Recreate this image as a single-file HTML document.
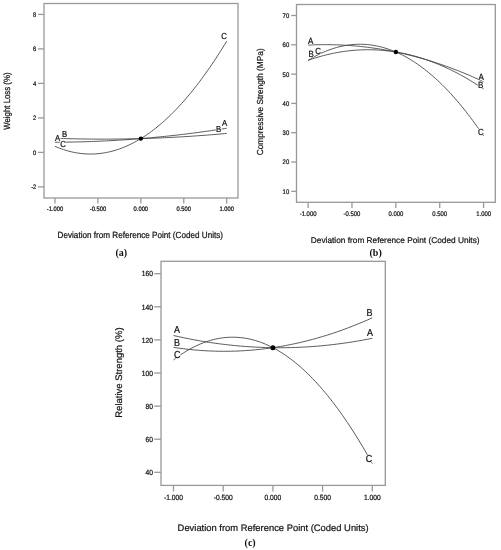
<!DOCTYPE html>
<html><head><meta charset="utf-8"><title>Perturbation plots</title>
<style>
html,body{margin:0;padding:0;background:#fff;}
svg{display:block;}
text{font-family:"Liberation Sans", Arial, Helvetica, sans-serif; fill:#151515; stroke:#151515; stroke-width:0.22px;}
.tag{font-family:"Liberation Serif", "Times New Roman", serif; font-weight:bold; stroke:none; fill:#111;}
</style></head><body>
<svg width="501" height="550" viewBox="0 0 501 550">
<rect width="501" height="550" fill="#fff"/>
<g id="panel-a">
<rect x="44" y="3.5" width="194.00" height="194.50" fill="none" stroke="#999999" stroke-width="1.3"/>
<line x1="55.00" y1="198" x2="55.00" y2="203.50" stroke="#999999" stroke-width="1.3"/>
<text transform="translate(55.00,211.00) skewX(0.05) scale(1,1.12)" font-size="5.80" text-anchor="middle">-1.000</text>
<line x1="97.92" y1="198" x2="97.92" y2="203.50" stroke="#999999" stroke-width="1.3"/>
<text transform="translate(97.92,211.00) skewX(0.05) scale(1,1.12)" font-size="5.80" text-anchor="middle">-0.500</text>
<line x1="140.85" y1="198" x2="140.85" y2="203.50" stroke="#999999" stroke-width="1.3"/>
<text transform="translate(140.85,211.00) skewX(0.05) scale(1,1.12)" font-size="5.80" text-anchor="middle">0.000</text>
<line x1="183.77" y1="198" x2="183.77" y2="203.50" stroke="#999999" stroke-width="1.3"/>
<text transform="translate(183.77,211.00) skewX(0.05) scale(1,1.12)" font-size="5.80" text-anchor="middle">0.500</text>
<line x1="226.70" y1="198" x2="226.70" y2="203.50" stroke="#999999" stroke-width="1.3"/>
<text transform="translate(226.70,211.00) skewX(0.05) scale(1,1.12)" font-size="5.80" text-anchor="middle">1.000</text>
<line x1="38" y1="186.90" x2="44" y2="186.90" stroke="#999999" stroke-width="1.3"/>
<text transform="translate(36.30,189.24) skewX(0.05) scale(1,1.12)" font-size="5.80" text-anchor="end">-2</text>
<line x1="38" y1="152.40" x2="44" y2="152.40" stroke="#999999" stroke-width="1.3"/>
<text transform="translate(36.30,154.74) skewX(0.05) scale(1,1.12)" font-size="5.80" text-anchor="end">0</text>
<line x1="38" y1="117.90" x2="44" y2="117.90" stroke="#999999" stroke-width="1.3"/>
<text transform="translate(36.30,120.24) skewX(0.05) scale(1,1.12)" font-size="5.80" text-anchor="end">2</text>
<line x1="38" y1="83.40" x2="44" y2="83.40" stroke="#999999" stroke-width="1.3"/>
<text transform="translate(36.30,85.74) skewX(0.05) scale(1,1.12)" font-size="5.80" text-anchor="end">4</text>
<line x1="38" y1="48.90" x2="44" y2="48.90" stroke="#999999" stroke-width="1.3"/>
<text transform="translate(36.30,51.24) skewX(0.05) scale(1,1.12)" font-size="5.80" text-anchor="end">6</text>
<line x1="38" y1="14.40" x2="44" y2="14.40" stroke="#999999" stroke-width="1.3"/>
<text transform="translate(36.30,16.74) skewX(0.05) scale(1,1.12)" font-size="5.80" text-anchor="end">8</text>
<polyline points="55.00,142.22 57.15,142.21 59.29,142.20 61.44,142.18 63.58,142.16 65.73,142.14 67.88,142.11 70.02,142.07 72.17,142.04 74.32,141.99 76.46,141.95 78.61,141.90 80.75,141.84 82.90,141.78 85.05,141.72 87.19,141.65 89.34,141.58 91.49,141.50 93.63,141.42 95.78,141.34 97.92,141.25 100.07,141.16 102.22,141.06 104.36,140.96 106.51,140.86 108.66,140.75 110.80,140.63 112.95,140.52 115.09,140.39 117.24,140.27 119.39,140.14 121.53,140.00 123.68,139.86 125.83,139.72 127.97,139.57 130.12,139.42 132.26,139.26 134.41,139.11 136.56,138.94 138.70,138.77 140.85,138.60 143.00,138.42 145.14,138.24 147.29,138.06 149.44,137.87 151.58,137.67 153.73,137.48 155.87,137.27 158.02,137.07 160.17,136.86 162.31,136.64 164.46,136.42 166.60,136.20 168.75,135.97 170.90,135.74 173.04,135.51 175.19,135.27 177.34,135.02 179.48,134.78 181.63,134.52 183.77,134.27 185.92,134.01 188.07,133.74 190.21,133.47 192.36,133.20 194.51,132.92 196.65,132.64 198.80,132.35 200.94,132.06 203.09,131.77 205.24,131.47 207.38,131.17 209.53,130.86 211.68,130.55 213.82,130.23 215.97,129.91 218.12,129.59 220.26,129.26 222.41,128.93 224.55,128.59 226.70,128.25" fill="none" stroke="#3c3c3c" stroke-width="0.85"/>
<polyline points="55.00,138.25 57.15,138.33 59.29,138.40 61.44,138.47 63.58,138.54 65.73,138.60 67.88,138.66 70.02,138.71 72.17,138.77 74.32,138.81 76.46,138.86 78.61,138.90 80.75,138.94 82.90,138.97 85.05,139.00 87.19,139.03 89.34,139.06 91.49,139.08 93.63,139.09 95.78,139.11 97.92,139.12 100.07,139.12 102.22,139.13 104.36,139.13 106.51,139.12 108.66,139.12 110.80,139.11 112.95,139.09 115.09,139.08 117.24,139.06 119.39,139.03 121.53,139.00 123.68,138.97 125.83,138.94 127.97,138.90 130.12,138.86 132.26,138.81 134.41,138.77 136.56,138.71 138.70,138.66 140.85,138.60 143.00,138.54 145.14,138.47 147.29,138.40 149.44,138.33 151.58,138.25 153.73,138.18 155.87,138.09 158.02,138.01 160.17,137.92 162.31,137.82 164.46,137.73 166.60,137.63 168.75,137.52 170.90,137.42 173.04,137.31 175.19,137.19 177.34,137.08 179.48,136.95 181.63,136.83 183.77,136.70 185.92,136.57 188.07,136.44 190.21,136.30 192.36,136.16 194.51,136.01 196.65,135.86 198.80,135.71 200.94,135.56 203.09,135.40 205.24,135.24 207.38,135.07 209.53,134.90 211.68,134.73 213.82,134.55 215.97,134.37 218.12,134.19 220.26,134.00 222.41,133.81 224.55,133.62 226.70,133.43" fill="none" stroke="#3c3c3c" stroke-width="0.85"/>
<polyline points="55.00,146.36 57.15,147.26 59.29,148.10 61.44,148.89 63.58,149.62 65.73,150.30 67.88,150.92 70.02,151.48 72.17,151.99 74.32,152.44 76.46,152.83 78.61,153.17 80.75,153.45 82.90,153.68 85.05,153.85 87.19,153.96 89.34,154.02 91.49,154.02 93.63,153.97 95.78,153.86 97.92,153.69 100.07,153.47 102.22,153.19 104.36,152.86 106.51,152.47 108.66,152.02 110.80,151.52 112.95,150.96 115.09,150.35 117.24,149.68 119.39,148.95 121.53,148.17 123.68,147.33 125.83,146.43 127.97,145.48 130.12,144.48 132.26,143.41 134.41,142.29 136.56,141.12 138.70,139.89 140.85,138.60 143.00,137.26 145.14,135.86 147.29,134.40 149.44,132.89 151.58,131.32 153.73,129.70 155.87,128.02 158.02,126.28 160.17,124.49 162.31,122.64 164.46,120.74 166.60,118.78 168.75,116.76 170.90,114.69 173.04,112.56 175.19,110.38 177.34,108.14 179.48,105.84 181.63,103.49 183.77,101.08 185.92,98.62 188.07,96.10 190.21,93.52 192.36,90.89 194.51,88.20 196.65,85.45 198.80,82.65 200.94,79.79 203.09,76.88 205.24,73.91 207.38,70.89 209.53,67.81 211.68,64.67 213.82,61.48 215.97,58.23 218.12,54.92 220.26,51.56 222.41,48.14 224.55,44.67 226.70,41.14" fill="none" stroke="#3c3c3c" stroke-width="0.85"/>
<circle cx="140.85" cy="138.60" r="2.20" fill="#000"/>
<rect x="54.70" y="134.77" width="5.80" height="6.43" fill="#fff"/>
<text transform="translate(55.00,141.00) skewX(0.05) scale(1,1.12)" font-size="7.80">A</text>
<rect x="61.70" y="130.77" width="5.80" height="6.43" fill="#fff"/>
<text transform="translate(62.00,137.00) skewX(0.05) scale(1,1.12)" font-size="7.80">B</text>
<rect x="59.90" y="140.77" width="5.80" height="6.43" fill="#fff"/>
<text transform="translate(60.20,147.00) skewX(0.05) scale(1,1.12)" font-size="7.80">C</text>
<rect x="221.60" y="119.77" width="5.80" height="6.43" fill="#fff"/>
<text transform="translate(227.10,126.00) skewX(0.05) scale(1,1.12)" font-size="7.80" text-anchor="end">A</text>
<rect x="215.80" y="125.77" width="5.80" height="6.43" fill="#fff"/>
<text transform="translate(221.30,132.00) skewX(0.05) scale(1,1.12)" font-size="7.80" text-anchor="end">B</text>
<rect x="221.50" y="32.77" width="5.80" height="6.43" fill="#fff"/>
<text transform="translate(227.00,39.00) skewX(0.05) scale(1,1.12)" font-size="7.80" text-anchor="end">C</text>
<text transform="translate(9.80,101.10) rotate(-90) skewX(0.05) scale(1,1.15)" font-size="7.85" text-anchor="middle">Weight Loss (%)</text>
<text transform="translate(57.60,238.00) skewX(0.05) scale(1,1.1)" font-size="8.15">Deviation from Reference Point (Coded Units)</text>
<text class="tag" x="115.40" y="256.40" font-size="10">(a)</text>
</g>
<g id="panel-b">
<rect x="296.5" y="4.5" width="198.80" height="197.80" fill="none" stroke="#999999" stroke-width="1.3"/>
<line x1="308.10" y1="202.3" x2="308.10" y2="208.00" stroke="#999999" stroke-width="1.3"/>
<text transform="translate(308.10,216.00) skewX(0.05) scale(1,1.12)" font-size="5.95" text-anchor="middle">-1.000</text>
<line x1="351.98" y1="202.3" x2="351.98" y2="208.00" stroke="#999999" stroke-width="1.3"/>
<text transform="translate(351.98,216.00) skewX(0.05) scale(1,1.12)" font-size="5.95" text-anchor="middle">-0.500</text>
<line x1="395.85" y1="202.3" x2="395.85" y2="208.00" stroke="#999999" stroke-width="1.3"/>
<text transform="translate(395.85,216.00) skewX(0.05) scale(1,1.12)" font-size="5.95" text-anchor="middle">0.000</text>
<line x1="439.73" y1="202.3" x2="439.73" y2="208.00" stroke="#999999" stroke-width="1.3"/>
<text transform="translate(439.73,216.00) skewX(0.05) scale(1,1.12)" font-size="5.95" text-anchor="middle">0.500</text>
<line x1="483.60" y1="202.3" x2="483.60" y2="208.00" stroke="#999999" stroke-width="1.3"/>
<text transform="translate(483.60,216.00) skewX(0.05) scale(1,1.12)" font-size="5.95" text-anchor="middle">1.000</text>
<line x1="291.2" y1="191.30" x2="296.5" y2="191.30" stroke="#999999" stroke-width="1.3"/>
<text transform="translate(289.20,193.70) skewX(0.05) scale(1,1.12)" font-size="5.95" text-anchor="end">10</text>
<line x1="291.2" y1="162.00" x2="296.5" y2="162.00" stroke="#999999" stroke-width="1.3"/>
<text transform="translate(289.20,164.40) skewX(0.05) scale(1,1.12)" font-size="5.95" text-anchor="end">20</text>
<line x1="291.2" y1="132.70" x2="296.5" y2="132.70" stroke="#999999" stroke-width="1.3"/>
<text transform="translate(289.20,135.10) skewX(0.05) scale(1,1.12)" font-size="5.95" text-anchor="end">30</text>
<line x1="291.2" y1="103.40" x2="296.5" y2="103.40" stroke="#999999" stroke-width="1.3"/>
<text transform="translate(289.20,105.80) skewX(0.05) scale(1,1.12)" font-size="5.95" text-anchor="end">40</text>
<line x1="291.2" y1="74.10" x2="296.5" y2="74.10" stroke="#999999" stroke-width="1.3"/>
<text transform="translate(289.20,76.50) skewX(0.05) scale(1,1.12)" font-size="5.95" text-anchor="end">50</text>
<line x1="291.2" y1="44.80" x2="296.5" y2="44.80" stroke="#999999" stroke-width="1.3"/>
<text transform="translate(289.20,47.20) skewX(0.05) scale(1,1.12)" font-size="5.95" text-anchor="end">60</text>
<line x1="291.2" y1="15.50" x2="296.5" y2="15.50" stroke="#999999" stroke-width="1.3"/>
<text transform="translate(289.20,17.90) skewX(0.05) scale(1,1.12)" font-size="5.95" text-anchor="end">70</text>
<polyline points="308.10,45.09 310.29,44.99 312.49,44.90 314.68,44.82 316.88,44.76 319.07,44.71 321.26,44.68 323.46,44.66 325.65,44.65 327.84,44.66 330.04,44.68 332.23,44.72 334.43,44.77 336.62,44.84 338.81,44.92 341.01,45.01 343.20,45.12 345.39,45.25 347.59,45.38 349.78,45.54 351.98,45.70 354.17,45.88 356.36,46.08 358.56,46.28 360.75,46.51 362.94,46.74 365.14,46.99 367.33,47.26 369.53,47.54 371.72,47.83 373.91,48.14 376.11,48.46 378.30,48.80 380.49,49.15 382.69,49.52 384.88,49.90 387.08,50.29 389.27,50.70 391.46,51.12 393.66,51.56 395.85,52.01 398.04,52.47 400.24,52.95 402.43,53.45 404.63,53.95 406.82,54.47 409.01,55.01 411.21,55.56 413.40,56.13 415.59,56.71 417.79,57.30 419.98,57.91 422.18,58.53 424.37,59.16 426.56,59.81 428.76,60.48 430.95,61.16 433.14,61.85 435.34,62.56 437.53,63.28 439.73,64.01 441.92,64.76 444.11,65.53 446.31,66.31 448.50,67.10 450.69,67.91 452.89,68.73 455.08,69.56 457.28,70.41 459.47,71.28 461.66,72.15 463.86,73.05 466.05,73.95 468.24,74.87 470.44,75.81 472.63,76.76 474.83,77.72 477.02,78.70 479.21,79.69 481.41,80.70 483.60,81.72" fill="none" stroke="#3c3c3c" stroke-width="0.85"/>
<polyline points="308.10,60.33 310.29,59.57 312.49,58.84 314.68,58.13 316.88,57.46 319.07,56.81 321.26,56.19 323.46,55.60 325.65,55.04 327.84,54.50 330.04,54.00 332.23,53.52 334.43,53.07 336.62,52.65 338.81,52.26 341.01,51.89 343.20,51.56 345.39,51.25 347.59,50.97 349.78,50.72 351.98,50.50 354.17,50.30 356.36,50.14 358.56,50.00 360.75,49.89 362.94,49.81 365.14,49.76 367.33,49.74 369.53,49.74 371.72,49.77 373.91,49.84 376.11,49.93 378.30,50.04 380.49,50.19 382.69,50.36 384.88,50.57 387.08,50.80 389.27,51.06 391.46,51.35 393.66,51.66 395.85,52.01 398.04,52.38 400.24,52.78 402.43,53.21 404.63,53.67 406.82,54.16 409.01,54.67 411.21,55.21 413.40,55.79 415.59,56.39 417.79,57.01 419.98,57.67 422.18,58.36 424.37,59.07 426.56,59.81 428.76,60.58 430.95,61.38 433.14,62.21 435.34,63.06 437.53,63.94 439.73,64.86 441.92,65.80 444.11,66.76 446.31,67.76 448.50,68.79 450.69,69.84 452.89,70.92 455.08,72.03 457.28,73.17 459.47,74.34 461.66,75.53 463.86,76.76 466.05,78.01 468.24,79.29 470.44,80.60 472.63,81.93 474.83,83.30 477.02,84.69 479.21,86.11 481.41,87.56 483.60,89.04" fill="none" stroke="#3c3c3c" stroke-width="0.85"/>
<polyline points="308.10,60.33 310.29,59.00 312.49,57.72 314.68,56.51 316.88,55.35 319.07,54.24 321.26,53.20 323.46,52.21 325.65,51.29 327.84,50.41 330.04,49.60 332.23,48.85 334.43,48.15 336.62,47.51 338.81,46.92 341.01,46.40 343.20,45.93 345.39,45.52 347.59,45.17 349.78,44.88 351.98,44.64 354.17,44.46 356.36,44.34 358.56,44.27 360.75,44.27 362.94,44.32 365.14,44.43 367.33,44.60 369.53,44.82 371.72,45.10 373.91,45.44 376.11,45.84 378.30,46.29 380.49,46.81 382.69,47.38 384.88,48.00 387.08,48.69 389.27,49.43 391.46,50.23 393.66,51.09 395.85,52.01 398.04,52.98 400.24,54.01 402.43,55.10 404.63,56.25 406.82,57.45 409.01,58.72 411.21,60.03 413.40,61.41 415.59,62.85 417.79,64.34 419.98,65.89 422.18,67.50 424.37,69.16 426.56,70.89 428.76,72.67 430.95,74.51 433.14,76.40 435.34,78.36 437.53,80.37 439.73,82.44 441.92,84.56 444.11,86.75 446.31,88.99 448.50,91.29 450.69,93.65 452.89,96.06 455.08,98.53 457.28,101.06 459.47,103.65 461.66,106.30 463.86,109.00 466.05,111.76 468.24,114.58 470.44,117.46 472.63,120.39 474.83,123.38 477.02,126.43 479.21,129.54 481.41,132.70 483.60,135.92" fill="none" stroke="#3c3c3c" stroke-width="0.85"/>
<circle cx="395.85" cy="52.01" r="2.25" fill="#000"/>
<rect x="307.70" y="37.62" width="5.94" height="6.58" fill="#fff"/>
<text transform="translate(308.00,44.00) skewX(0.05) scale(1,1.12)" font-size="8.00">A</text>
<rect x="308.10" y="50.62" width="5.94" height="6.58" fill="#fff"/>
<text transform="translate(308.40,57.00) skewX(0.05) scale(1,1.12)" font-size="8.00">B</text>
<rect x="314.90" y="47.62" width="5.94" height="6.58" fill="#fff"/>
<text transform="translate(315.20,54.00) skewX(0.05) scale(1,1.12)" font-size="8.00">C</text>
<rect x="478.16" y="73.62" width="5.94" height="6.58" fill="#fff"/>
<text transform="translate(483.80,80.00) skewX(0.05) scale(1,1.12)" font-size="8.00" text-anchor="end">A</text>
<rect x="477.76" y="81.62" width="5.94" height="6.58" fill="#fff"/>
<text transform="translate(483.40,88.00) skewX(0.05) scale(1,1.12)" font-size="8.00" text-anchor="end">B</text>
<rect x="478.26" y="128.62" width="5.94" height="6.58" fill="#fff"/>
<text transform="translate(483.90,135.00) skewX(0.05) scale(1,1.12)" font-size="8.00" text-anchor="end">C</text>
<text transform="translate(263.00,101.80) rotate(-90) skewX(0.05) scale(1,1.05)" font-size="8.30" text-anchor="middle">Compressive Strength (MPa)</text>
<text transform="translate(310.80,243.00) skewX(0.05) scale(1,1)" font-size="8.31">Deviation from Reference Point (Coded Units)</text>
<text class="tag" x="369.50" y="256.00" font-size="10">(b)</text>
</g>
<g id="panel-c">
<rect x="161" y="261.3" width="224.30" height="224.10" fill="none" stroke="#999999" stroke-width="1.3"/>
<line x1="173.50" y1="485.4" x2="173.50" y2="491.50" stroke="#999999" stroke-width="1.3"/>
<text transform="translate(173.50,500.00) skewX(0.05) scale(1,1.12)" font-size="6.70" text-anchor="middle">-1.000</text>
<line x1="223.20" y1="485.4" x2="223.20" y2="491.50" stroke="#999999" stroke-width="1.3"/>
<text transform="translate(223.20,500.00) skewX(0.05) scale(1,1.12)" font-size="6.70" text-anchor="middle">-0.500</text>
<line x1="272.90" y1="485.4" x2="272.90" y2="491.50" stroke="#999999" stroke-width="1.3"/>
<text transform="translate(272.90,500.00) skewX(0.05) scale(1,1.12)" font-size="6.70" text-anchor="middle">0.000</text>
<line x1="322.60" y1="485.4" x2="322.60" y2="491.50" stroke="#999999" stroke-width="1.3"/>
<text transform="translate(322.60,500.00) skewX(0.05) scale(1,1.12)" font-size="6.70" text-anchor="middle">0.500</text>
<line x1="372.30" y1="485.4" x2="372.30" y2="491.50" stroke="#999999" stroke-width="1.3"/>
<text transform="translate(372.30,500.00) skewX(0.05) scale(1,1.12)" font-size="6.70" text-anchor="middle">1.000</text>
<line x1="154.2" y1="472.30" x2="161" y2="472.30" stroke="#999999" stroke-width="1.3"/>
<text transform="translate(153.00,475.00) skewX(0.05) scale(1,1.12)" font-size="6.70" text-anchor="end">40</text>
<line x1="154.2" y1="439.20" x2="161" y2="439.20" stroke="#999999" stroke-width="1.3"/>
<text transform="translate(153.00,441.90) skewX(0.05) scale(1,1.12)" font-size="6.70" text-anchor="end">60</text>
<line x1="154.2" y1="406.10" x2="161" y2="406.10" stroke="#999999" stroke-width="1.3"/>
<text transform="translate(153.00,408.80) skewX(0.05) scale(1,1.12)" font-size="6.70" text-anchor="end">80</text>
<line x1="154.2" y1="373.00" x2="161" y2="373.00" stroke="#999999" stroke-width="1.3"/>
<text transform="translate(153.00,375.70) skewX(0.05) scale(1,1.12)" font-size="6.70" text-anchor="end">100</text>
<line x1="154.2" y1="339.90" x2="161" y2="339.90" stroke="#999999" stroke-width="1.3"/>
<text transform="translate(153.00,342.60) skewX(0.05) scale(1,1.12)" font-size="6.70" text-anchor="end">120</text>
<line x1="154.2" y1="306.80" x2="161" y2="306.80" stroke="#999999" stroke-width="1.3"/>
<text transform="translate(153.00,309.50) skewX(0.05) scale(1,1.12)" font-size="6.70" text-anchor="end">140</text>
<line x1="154.2" y1="273.70" x2="161" y2="273.70" stroke="#999999" stroke-width="1.3"/>
<text transform="translate(153.00,276.40) skewX(0.05) scale(1,1.12)" font-size="6.70" text-anchor="end">160</text>
<polyline points="173.50,335.50 175.98,336.07 178.47,336.62 180.95,337.16 183.44,337.69 185.92,338.20 188.41,338.70 190.89,339.19 193.38,339.66 195.86,340.12 198.35,340.56 200.83,341.00 203.32,341.42 205.80,341.82 208.29,342.21 210.77,342.59 213.26,342.96 215.74,343.31 218.23,343.65 220.71,343.97 223.20,344.28 225.68,344.58 228.17,344.87 230.65,345.14 233.14,345.39 235.62,345.64 238.11,345.87 240.59,346.09 243.08,346.29 245.56,346.48 248.05,346.65 250.53,346.82 253.02,346.97 255.50,347.10 257.99,347.23 260.47,347.34 262.96,347.43 265.44,347.51 267.93,347.58 270.41,347.64 272.90,347.68 275.38,347.71 277.87,347.72 280.35,347.72 282.84,347.71 285.32,347.68 287.81,347.65 290.29,347.59 292.78,347.53 295.26,347.45 297.75,347.35 300.24,347.25 302.72,347.13 305.20,346.99 307.69,346.85 310.17,346.69 312.66,346.51 315.14,346.33 317.63,346.12 320.12,345.91 322.60,345.68 325.08,345.44 327.57,345.19 330.06,344.92 332.54,344.64 335.02,344.34 337.51,344.03 340.00,343.71 342.48,343.37 344.96,343.02 347.45,342.66 349.94,342.29 352.42,341.90 354.90,341.49 357.39,341.08 359.88,340.65 362.36,340.20 364.84,339.75 367.33,339.28 369.81,338.79 372.30,338.29" fill="none" stroke="#3c3c3c" stroke-width="0.85"/>
<polyline points="173.50,347.35 175.98,347.72 178.47,348.08 180.95,348.42 183.44,348.74 185.92,349.04 188.41,349.32 190.89,349.59 193.38,349.83 195.86,350.06 198.35,350.26 200.83,350.45 203.32,350.62 205.80,350.77 208.29,350.90 210.77,351.01 213.26,351.10 215.74,351.18 218.23,351.23 220.71,351.27 223.20,351.29 225.68,351.29 228.17,351.27 230.65,351.23 233.14,351.17 235.62,351.09 238.11,351.00 240.59,350.88 243.08,350.75 245.56,350.60 248.05,350.43 250.53,350.24 253.02,350.03 255.50,349.80 257.99,349.55 260.47,349.29 262.96,349.00 265.44,348.70 267.93,348.38 270.41,348.04 272.90,347.68 275.38,347.30 277.87,346.90 280.35,346.49 282.84,346.05 285.32,345.60 287.81,345.12 290.29,344.63 292.78,344.12 295.26,343.59 297.75,343.04 300.24,342.47 302.72,341.89 305.20,341.28 307.69,340.66 310.17,340.02 312.66,339.35 315.14,338.67 317.63,337.97 320.12,337.25 322.60,336.52 325.08,335.76 327.57,334.99 330.06,334.19 332.54,333.38 335.02,332.55 337.51,331.70 340.00,330.83 342.48,329.94 344.96,329.03 347.45,328.11 349.94,327.16 352.42,326.20 354.90,325.21 357.39,324.21 359.88,323.19 362.36,322.15 364.84,321.09 367.33,320.02 369.81,318.92 372.30,317.81" fill="none" stroke="#3c3c3c" stroke-width="0.85"/>
<polyline points="173.50,359.93 175.98,358.06 178.47,356.27 180.95,354.56 183.44,352.94 185.92,351.39 188.41,349.92 190.89,348.54 193.38,347.23 195.86,346.00 198.35,344.85 200.83,343.79 203.32,342.80 205.80,341.89 208.29,341.07 210.77,340.32 213.26,339.66 215.74,339.07 218.23,338.56 220.71,338.14 223.20,337.79 225.68,337.52 228.17,337.34 230.65,337.23 233.14,337.21 235.62,337.26 238.11,337.39 240.59,337.61 243.08,337.90 245.56,338.28 248.05,338.73 250.53,339.27 253.02,339.88 255.50,340.57 257.99,341.35 260.47,342.20 262.96,343.14 265.44,344.15 267.93,345.25 270.41,346.42 272.90,347.68 275.38,349.01 277.87,350.43 280.35,351.92 282.84,353.50 285.32,355.15 287.81,356.89 290.29,358.71 292.78,360.60 295.26,362.58 297.75,364.63 300.24,366.77 302.72,368.98 305.20,371.28 307.69,373.65 310.17,376.11 312.66,378.65 315.14,381.26 317.63,383.96 320.12,386.74 322.60,389.59 325.08,392.53 327.57,395.54 330.06,398.64 332.54,401.82 335.02,405.07 337.51,408.41 340.00,411.83 342.48,415.32 344.96,418.90 347.45,422.56 349.94,426.29 352.42,430.11 354.90,434.01 357.39,437.98 359.88,442.04 362.36,446.18 364.84,450.40 367.33,454.69 369.81,459.07 372.30,463.53" fill="none" stroke="#3c3c3c" stroke-width="0.85"/>
<circle cx="272.90" cy="347.68" r="2.50" fill="#000"/>
<rect x="173.70" y="325.84" width="6.60" height="7.36" fill="#fff"/>
<text transform="translate(174.00,333.00) skewX(0.05) scale(1,1.12)" font-size="9.00">A</text>
<rect x="173.70" y="338.84" width="6.60" height="7.36" fill="#fff"/>
<text transform="translate(174.00,346.00) skewX(0.05) scale(1,1.12)" font-size="9.00">B</text>
<rect x="173.70" y="350.84" width="6.60" height="7.36" fill="#fff"/>
<text transform="translate(174.00,358.00) skewX(0.05) scale(1,1.12)" font-size="9.00">C</text>
<rect x="366.10" y="308.84" width="6.60" height="7.36" fill="#fff"/>
<text transform="translate(372.40,316.00) skewX(0.05) scale(1,1.12)" font-size="9.00" text-anchor="end">B</text>
<rect x="366.70" y="328.84" width="6.60" height="7.36" fill="#fff"/>
<text transform="translate(373.00,336.00) skewX(0.05) scale(1,1.12)" font-size="9.00" text-anchor="end">A</text>
<rect x="365.90" y="454.84" width="6.60" height="7.36" fill="#fff"/>
<text transform="translate(372.20,462.00) skewX(0.05) scale(1,1.12)" font-size="9.00" text-anchor="end">C</text>
<text transform="translate(121.90,372.60) rotate(-90) skewX(0.05) scale(1,1)" font-size="9.50" text-anchor="middle">Relative Strength (%)</text>
<text transform="translate(177.60,531.00) skewX(0.05) scale(1,1)" font-size="9.40">Deviation from Reference Point (Coded Units)</text>
<text class="tag" x="244.60" y="546.00" font-size="10">(c)</text>
</g>
</svg>
</body></html>
